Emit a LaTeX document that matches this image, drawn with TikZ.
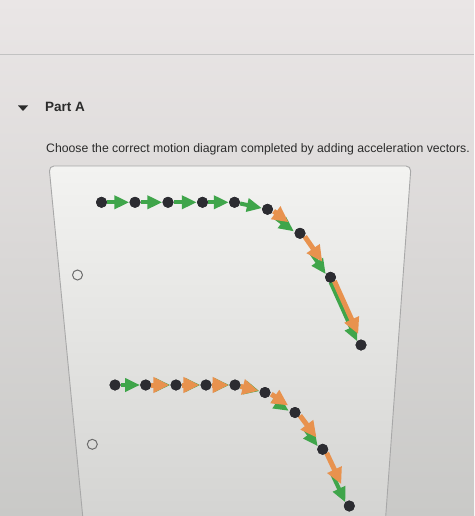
\documentclass[tikz,border=0pt]{standalone}
\usepackage{fontspec}
\setmainfont{Liberation Sans}
\usetikzlibrary{arrows.meta,calc}
\definecolor{velgreen}{HTML}{3FA54A}
\definecolor{accorange}{HTML}{E8924E}
\definecolor{dotgray}{HTML}{2C2C31}
\definecolor{frame}{HTML}{A8A8A8}
\definecolor{ink}{HTML}{2B2B2B}
\definecolor{bgtop}{HTML}{EAE6E6}
\definecolor{bgbot}{HTML}{C9C9C7}
\definecolor{boxtop}{HTML}{F3F3F1}
\definecolor{boxbot}{HTML}{D2D2D0}
\tikzset{
  dot/.style={circle, fill=dotgray, inner sep=0pt, minimum size=11pt},
  vel/.style={draw=velgreen, line width=4pt, -{Triangle[length=15pt,width=13pt]}},
  acc/.style={draw=accorange, line width=5pt, -{Triangle[length=16pt,width=15pt]}},
  radio/.style={circle, draw=gray!85!black, line width=1pt, inner sep=0pt, minimum size=10pt},
  lab/.style={text=ink, anchor=base west, inner sep=0pt},
}

\begin{document}
\begin{tikzpicture}[x=1pt, y=-1pt]
  \useasboundingbox (0,0) rectangle (474,516);
  \clip (0,0) rectangle (474,516);

  % page and answer box
  \shade[top color=bgtop, bottom color=bgbot] (0,0) rectangle (474,516);
  \draw[frame!70, line width=0.6pt] (0,54) -- (474,54);
  \shade[top color=boxtop, bottom color=boxbot, rounded corners=5pt]
    (85,540) -- (49,166) -- (411,166) -- (384,540) -- cycle;
  \draw[frame, line width=0.9pt, rounded corners=5pt]
    (85,540) -- (49,166) -- (411,166) -- (384,540);

  % heading and question
  \fill[ink] (18,105.5) -- (28,105.5) -- (23,111) -- cycle;
  \node[lab, font=\fontsize{13.5}{15}\selectfont\bfseries] (part) at (45,112) {Part A};
  \node[lab, font=\fontsize{12.25}{15}\selectfont] (question) at (46,152)
    {Choose the correct motion diagram completed by adding acceleration vectors.};

  % radio buttons
  \node[radio] (r1) at (77.5,275) {};
  \node[radio] (r2) at (92.3,444.3) {};

  % first diagram
  \node[dot] (t1) at (101.5,202.3) {};
  \node[dot] (t2) at (135,202.3) {};
  \node[dot] (t3) at (168,202.3) {};
  \node[dot] (t4) at (202.5,202.3) {};
  \node[dot] (t5) at (234.5,202.3) {};
  \node[dot] (t6) at (267.5,209.3) {};
  \node[dot] (t7) at (300,233.3) {};
  \node[dot] (t8) at (330.5,277.3) {};
  \node[dot] (t9) at (361,345) {};
  \foreach \i/\j in {1/2,2/3,3/4,4/5,5/6}
    \draw[vel] (t\i) -- (t\j);
  \foreach \i/\j/\a/\v in {6/7/0.6/0.3, 7/8/0.68/0.4, 8/9/0.86/0.05} {
    \coordinate (ta\i) at ($(t\i)!\a!(t\j)$);
    \coordinate (tv\i) at ($(t\i)!\v!(t\j)$);
    \draw[vel, transform canvas={shift={(-1.5pt,-1.5pt)}}] (tv\i) -- (t\j);
    \draw[acc, transform canvas={shift={(1.5pt,1.5pt)}}] (t\i) -- (ta\i);
  }

  % second diagram
  \node[dot] (b1) at (115,385) {};
  \node[dot] (b2) at (145.7,385) {};
  \node[dot] (b3) at (176,385) {};
  \node[dot] (b4) at (206,385) {};
  \node[dot] (b5) at (235,385) {};
  \node[dot] (b6) at (265,392.5) {};
  \node[dot] (b7) at (295,412.5) {};
  \node[dot] (b8) at (322.7,449.3) {};
  \node[dot] (b9) at (349.3,506) {};
  \foreach \i/\j in {1/2,2/3,3/4,4/5,5/6}
    \draw[vel] (b\i) -- (b\j);
  \foreach \i/\j in {2/3,3/4,4/5,5/6} {
    \coordinate (ba\i) at ($(b\i)!0.78!(b\j)$);
    \draw[acc] (b\i) -- (ba\i);
  }
  \foreach \i/\j/\a/\v in {6/7/0.72/0.3, 7/8/0.72/0.4, 8/9/0.64/0.42} {
    \coordinate (ba\i) at ($(b\i)!\a!(b\j)$);
    \coordinate (bv\i) at ($(b\i)!\v!(b\j)$);
    \draw[vel, transform canvas={shift={(-1.5pt,-1.5pt)}}] (bv\i) -- (b\j);
    \draw[acc, transform canvas={shift={(1.5pt,1.5pt)}}] (b\i) -- (ba\i);
  }

  % dots back on top
  \foreach \n in {t1,t2,t3,t4,t5,t6,t7,t8,t9,b1,b2,b3,b4,b5,b6,b7,b8,b9}
    \fill[dotgray] (\n.center) circle (5.5pt);
\end{tikzpicture}
\end{document}
